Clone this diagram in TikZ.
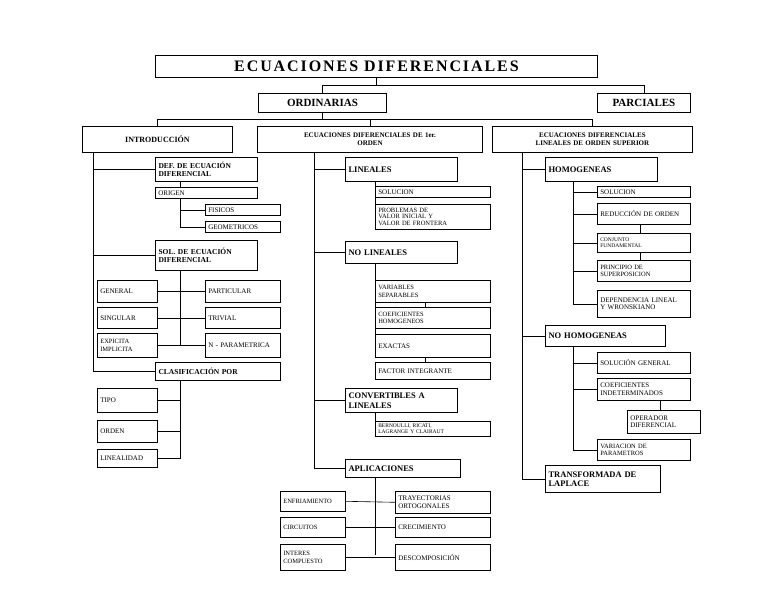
\documentclass[tikz,border=0pt]{standalone}
\usepackage{fontspec}
\setmainfont{Liberation Serif}
\newfontfamily\titlefont[LetterSpace=12]{Liberation Serif}
\tikzset{
  sb/.style={draw, line width=0.6pt, font=\fontsize{7}{7.5}\selectfont, inner sep=2pt, align=left},
  hb/.style={draw, line width=1.1pt, font=\bfseries\fontsize{8.5}{9.5}\selectfont, inner sep=2pt, align=left},
  cb/.style={draw, line width=0.9pt, font=\bfseries\fontsize{8}{9}\selectfont, inner sep=2pt, align=center},
  ln/.style={line width=0.6pt}
}
\newcommand\bx[7]{%
  \pgfmathsetmacro\bw{#4-#2}\pgfmathsetmacro\bh{#5-#3}\pgfmathsetmacro\tw{#4-#2-6}%
  \node[#7, anchor=north west, minimum width=\bw pt, minimum height=\bh pt, text width=\tw pt] (#1) at (#2,#3) {#6};}
\begin{document}
\begin{tikzpicture}[x=1pt,y=-1pt]
\useasboundingbox (0,0) rectangle (768,594);
\fill[white] (0,0) rectangle (768,594);
% top
\node[draw, line width=0.9pt, anchor=north west, minimum width=442pt, minimum height=22pt, font=\titlefont\bfseries\fontsize{16}{16}\selectfont, inner sep=0pt] (title) at (155,55) {ECUACIONES DIFERENCIALES};
\bx{ord}{258}{93}{386}{112}{ORDINARIAS}{cb,font=\bfseries\fontsize{11}{11}\selectfont}
\bx{par}{597}{93}{690}{112}{PARCIALES}{cb,font=\bfseries\fontsize{11}{11}\selectfont}
\draw[ln] (title.south) -- ++(0,7) -| (ord.north);
\draw[ln] (title.south) ++(0,7) -| (par.north);
\bx{intro}{82}{126}{232}{152}{INTRODUCCIÓN}{cb}
\bx{edo}{257}{126}{482}{152}{ECUACIONES DIFERENCIALES DE 1er.\\ORDEN}{cb,font=\bfseries\fontsize{7}{8}\selectfont}
\bx{sup}{492}{126}{692}{152}{ECUACIONES DIFERENCIALES\\LINEALES DE ORDEN SUPERIOR}{cb,font=\bfseries\fontsize{7}{8}\selectfont}
\draw[ln] (ord.south) -- ++(0,6) -| (intro.north);
\draw[ln] (ord.south) ++(0,6) -| (edo.north);
\draw[ln] (ord.south) ++(0,6) -| (sup.north);
% left column
\bx{def}{155}{157}{257}{181}{DEF. DE ECUACIÓN\\DIFERENCIAL}{hb,font=\bfseries\fontsize{7.5}{8.5}\selectfont}
\bx{orig}{155}{187}{257}{198}{ORIGEN}{sb}
\bx{fis}{205}{204}{280}{215}{FISICOS}{sb}
\bx{geo}{205}{221}{280}{232}{GEOMETRICOS}{sb}
\bx{sol}{155}{240}{257}{270}{SOL. DE ECUACIÓN\\DIFERENCIAL}{hb,font=\bfseries\fontsize{7.5}{8.5}\selectfont}
\bx{gen}{97}{280}{157}{302}{GENERAL}{sb}
\bx{sing}{97}{307}{157}{328}{SINGULAR}{sb}
\bx{expl}{97}{333}{157}{357}{EXPICITA\\IMPLICITA}{sb,font=\fontsize{6.5}{7.5}\selectfont}
\bx{part}{205}{280}{280}{302}{PARTICULAR}{sb}
\bx{triv}{205}{307}{280}{328}{TRIVIAL}{sb}
\bx{npar}{205}{333}{280}{357}{N - PARAMETRICA}{sb}
\bx{clas}{155}{362}{280}{380}{CLASIFICACIÓN POR}{hb,font=\bfseries\fontsize{7.5}{8.5}\selectfont}
\bx{tipo}{97}{388}{157}{412}{TIPO}{sb}
\bx{orden}{97}{420}{157}{442}{ORDEN}{sb}
\bx{lin}{97}{449}{157}{467}{LINEALIDAD}{sb}
\coordinate (lt) at ([xshift=11pt]intro.south west);
\draw[ln] (lt) |- (clas.west);
\draw[ln] (lt |- def.west) -- (def.west);
\draw[ln] (lt |- sol.west) -- (sol.west);
\draw[ln] (def.south -| 180,0) -- (orig.north -| 180,0);
\draw[ln] (orig.south -| 180,0) |- (geo.west);
\draw[ln] (fis.west -| 180,0) -- (fis.west);
\draw[ln] (sol.south -| 180,0) -- (180,345);
\draw[ln] (gen.east) -- (part.west);
\draw[ln] (sing.east) -- (triv.west);
\draw[ln] (expl.east) -- (npar.west);
\draw[ln] (clas.south -| 180,0) |- (lin.east);
\draw[ln] (tipo.east) -- (tipo.east -| 180,0);
\draw[ln] (orden.east) -- (orden.east -| 180,0);
% middle column
\bx{lins}{345}{157}{457}{181}{LINEALES}{hb}
\bx{solm}{375}{186}{490}{197}{SOLUCION}{sb}
\bx{prob}{375}{204}{490}{229}{PROBLEMAS DE\\VALOR INICIAL Y\\VALOR DE FRONTERA}{sb,font=\fontsize{6.5}{6.8}\selectfont}
\bx{nolin}{345}{241}{457}{263}{NO LINEALES}{hb}
\bx{var}{375}{280}{490}{302}{VARIABLES\\SEPARABLES}{sb,font=\fontsize{6.5}{7.5}\selectfont}
\bx{coef}{375}{307}{490}{328}{COEFICIENTES\\HOMOGENEOS}{sb,font=\fontsize{6.5}{7.5}\selectfont}
\bx{exac}{375}{334}{490}{357}{EXACTAS}{sb}
\bx{fact}{375}{362}{490}{379}{FACTOR INTEGRANTE}{sb}
\bx{conv}{345}{388}{457}{412}{CONVERTIBLES A\\LINEALES}{hb}
\bx{bern}{375}{421}{490}{436}{BERNOULLI, RICATI,\\LAGRANGE Y CLAIRAUT}{sb,font=\fontsize{5.5}{6.3}\selectfont}
\bx{apl}{345}{459}{460}{477}{APLICACIONES}{hb}
\bx{enf}{280}{491}{345}{511}{ENFRIAMIENTO}{sb,font=\fontsize{6.5}{7.5}\selectfont}
\bx{circ}{280}{517}{345}{537}{CIRCUITOS}{sb,font=\fontsize{6.5}{7.5}\selectfont}
\bx{inte}{280}{544}{345}{570}{INTERES\\COMPUESTO}{sb,font=\fontsize{6.5}{7.5}\selectfont}
\bx{tray}{395}{491}{490}{513}{TRAYECTORIAS\\ORTOGONALES}{sb}
\bx{crec}{395}{517}{490}{537}{CRECIMIENTO}{sb}
\bx{desc}{395}{544}{490}{570}{DESCOMPOSICIÓN}{sb}
\coordinate (mt) at (edo.south -| 314,0);
\draw[ln] (mt) |- (apl.west);
\draw[ln] (mt |- lins.west) -- (lins.west);
\draw[ln] (mt |- nolin.west) -- (nolin.west);
\draw[ln] (mt |- conv.west) -- (conv.west);
\draw[ln] (lins.south -| 375,0) |- (prob.west);
\draw[ln] (solm.west -| 375,0) -- (solm.west);
\draw[ln] (nolin.south -| 375,0) |- (exac.west);
\draw[ln] (var.west -| 375,0) -- (var.west);
\draw[ln] (var.south -| 425,0) -- (coef.north -| 425,0);
\draw[ln] (exac.south -| 425,0) -- (fact.north -| 425,0);
\draw[ln] (conv.south -| 375,0) |- (bern.west);
\draw[ln] (apl.south -| 375,0) -- (375,555);
\draw[ln] (enf.east) -- (tray.west);
\draw[ln] (circ.east) -- (crec.west);
\draw[ln] (inte.east) -- (desc.west);
% right column
\bx{hom}{545}{157}{657}{181}{HOMOGENEAS}{hb}
\bx{solr}{597}{186}{690}{197}{SOLUCION}{sb}
\bx{red}{597}{203}{690}{224}{REDUCCIÓN DE ORDEN}{sb}
\bx{conj}{597}{233}{690}{252}{CONJUNTO\\FUNDAMENTAL}{sb,font=\fontsize{5.5}{6.3}\selectfont}
\bx{prin}{597}{260}{690}{281}{PRINCIPIO DE\\SUPERPOSICION}{sb,font=\fontsize{6.5}{7}\selectfont}
\bx{dep}{597}{290}{690}{317}{DEPENDENCIA LINEAL\\Y WRONSKIANO}{sb}
\bx{nohom}{545}{325}{665}{346}{NO HOMOGENEAS}{hb}
\bx{sgen}{597}{352}{690}{373}{SOLUCIÓN GENERAL}{sb}
\bx{cind}{597}{378}{690}{400}{COEFICIENTES\\INDETERMINADOS}{sb}
\bx{oper}{627}{410}{700}{433}{OPERADOR\\DIFERENCIAL}{sb}
\bx{vari}{597}{439}{690}{460}{VARIACION DE\\PARAMETROS}{sb,font=\fontsize{6.5}{7}\selectfont}
\bx{trans}{545}{465}{660}{492}{TRANSFORMADA DE\\LAPLACE}{hb}
\coordinate (rt) at (sup.south -| 522,0);
\draw[ln] (rt) |- (trans.west);
\draw[ln] (rt |- hom.west) -- (hom.west);
\draw[ln] (rt |- nohom.west) -- (nohom.west);
\draw[ln] (hom.south -| 573,0) |- (dep.west);
\draw[ln] (solr.west -| 573,0) -- (solr.west);
\draw[ln] (red.west -| 573,0) -- (red.west);
\draw[ln] (conj.west -| 573,0) -- (conj.west);
\draw[ln] (prin.west -| 573,0) -- (prin.west);
\draw[ln] (red.south -| 640,0) -- (conj.north -| 640,0);
\draw[ln] (conj.south -| 640,0) -- (prin.north -| 640,0);
\draw[ln] (nohom.south -| 573,0) |- (vari.west);
\draw[ln] (sgen.west -| 573,0) -- (sgen.west);
\draw[ln] (cind.west -| 573,0) -- (cind.west);
\draw[ln] (cind.south -| 660,0) -- (oper.north -| 660,0);
\end{tikzpicture}
\end{document}
